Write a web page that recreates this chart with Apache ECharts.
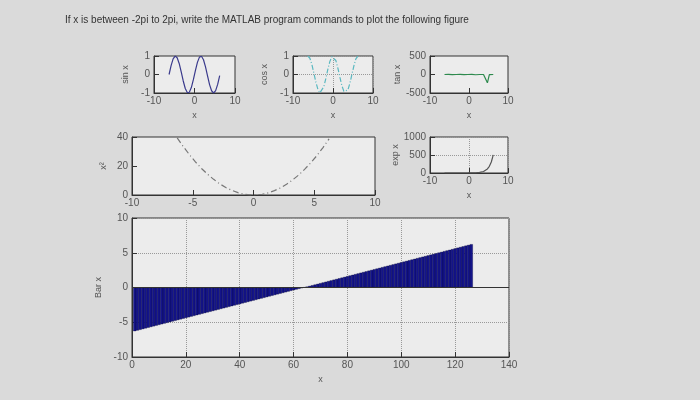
<!DOCTYPE html>
<html><head><meta charset="utf-8">
<script src="https://cdn.jsdelivr.net/npm/echarts@6/dist/echarts.min.js"></script>
<style>html,body{margin:0;background:#dadada}#c{width:700px;height:400px}</style>
</head><body><div id="c"></div>
<script>
const xs=[-6.28,-5.78,-5.28,-4.78,-4.28,-3.78,-3.28,-2.78,-2.28,-1.78,-1.28,-0.78,-0.28,0.22,0.72,1.22,1.72,2.22,2.72,3.22,3.72,4.22,4.72,5.22,5.72,6.22];
const sinV=[0,.479,.841,.997,.909,.598,.141,-.351,-.757,-.978,-.959,-.706,-.279,.215,.657,.938,.989,.798,.412,-.075,-.544,-.879,-1.0,-.875,-.537,-.066];
const cosV=[1,.878,.540,.071,-.416,-.801,-.990,-.936,-.654,-.211,.284,.709,.960,.976,.754,.347,-.146,-.602,-.911,-.997,-.839,-.477,-.004,.468,.844,.997];
const tanV=[0,.546,1.557,14.1,-2.185,-.747,-.143,.375,1.158,4.637,-3.381,-.996,-.291,.220,.871,2.706,-6.8,-1.326,-.452,.075,.648,1.843,-225.95,-1.869,-.636,-.066];
const sqV=[39.4,33.4,27.9,22.8,18.3,14.3,10.8,7.7,5.2,3.2,1.6,.6,.08,.05,.52,1.5,3.0,4.9,7.4,10.4,13.8,17.8,22.3,27.2,32.7,38.7];
const expV=[.002,.003,.005,.008,.014,.023,.038,.062,.10,.17,.28,.46,.76,1.25,2.05,3.39,5.58,9.2,15.2,25.0,41.3,68.0,112,185,305,503];
const barV=[-6.28,-6.18,-6.08,-5.98,-5.88,-5.78,-5.68,-5.58,-5.48,-5.38,
-5.28,-5.18,-5.08,-4.98,-4.88,-4.78,-4.68,-4.58,-4.48,-4.38,
-4.28,-4.18,-4.08,-3.98,-3.88,-3.78,-3.68,-3.58,-3.48,-3.38,
-3.28,-3.18,-3.08,-2.98,-2.88,-2.78,-2.68,-2.58,-2.48,-2.38,
-2.28,-2.18,-2.08,-1.98,-1.88,-1.78,-1.68,-1.58,-1.48,-1.38,
-1.28,-1.18,-1.08,-0.98,-0.88,-0.78,-0.68,-0.58,-0.48,-0.38,
-0.28,-0.18,-0.08,0.02,0.12,0.22,0.32,0.42,0.52,0.62,
0.72,0.82,0.92,1.02,1.12,1.22,1.32,1.42,1.52,1.62,
1.72,1.82,1.92,2.02,2.12,2.22,2.32,2.42,2.52,2.62,
2.72,2.82,2.92,3.02,3.12,3.22,3.32,3.42,3.52,3.62,
3.72,3.82,3.92,4.02,4.12,4.22,4.32,4.42,4.52,4.62,
4.72,4.82,4.92,5.02,5.12,5.22,5.32,5.42,5.52,5.62,
5.72,5.82,5.92,6.02,6.12,6.22];
const pair=a=>xs.map((x,i)=>[x,a[i]]);
const grids=[[154,56,81,37],[293,56,80,37],[430,56,78,37],[132,137,243,58],[430,137,78,36],[132,218,377,139]];
const tc='#555',fs=10;
function xa(i,min,max,iv,name,grid){return {gridIndex:i,type:'value',min,max,interval:iv,name,nameLocation:'middle',nameGap:18,nameTextStyle:{color:tc,fontSize:9},
 axisLine:{onZero:false,lineStyle:{color:'#333'}},axisTick:{inside:true,lineStyle:{color:'#333'}},axisLabel:{color:tc,fontSize:fs,margin:3},
 splitLine:{show:!!grid,lineStyle:{type:'dotted',color:'#999'}}};}
function ya(i,min,max,iv,name,grid){return {gridIndex:i,type:'value',min,max,interval:iv,name,nameLocation:'middle',nameGap:24,nameTextStyle:{color:tc,fontSize:9},
 axisLine:{onZero:false,lineStyle:{color:'#333'}},axisTick:{inside:true,lineStyle:{color:'#333'}},axisLabel:{color:tc,fontSize:fs,margin:4,formatter:v=>String(v)},
 splitLine:{show:!!grid,lineStyle:{type:'dotted',color:'#999'}}};}
const c=echarts.init(document.getElementById('c'));
c.setOption({backgroundColor:'#dadada',animation:false,
 title:{text:'If x is between -2pi to 2pi, write the MATLAB program commands to plot the following figure',left:60,top:10,textStyle:{fontSize:10,fontWeight:'normal',color:'#333'}},
 grid:grids.map(g=>({left:g[0],top:g[1],width:g[2],height:g[3],show:true,backgroundColor:'#ececec',borderColor:'#333',borderWidth:1})),
 xAxis:[xa(0,-10,10,10,'x'),xa(1,-10,10,10,'x',true),xa(2,-10,10,10,'x'),xa(3,-10,10,5,''),xa(4,-10,10,10,'x',true),xa(5,0,140,20,'x',true)],
 yAxis:[ya(0,-1,1,1,'sin x'),ya(1,-1,1,1,'cos x',true),ya(2,-500,500,500,'tan x'),ya(3,0,40,20,'x²'),ya(4,0,1000,500,'exp x',true),ya(5,-10,10,5,'Bar x',true)],
 series:[
  {type:'line',xAxisIndex:0,yAxisIndex:0,data:pair(sinV),showSymbol:false,lineStyle:{color:'#3a3a8c',width:1.2}},
  {type:'line',xAxisIndex:1,yAxisIndex:1,data:pair(cosV),showSymbol:false,lineStyle:{color:'#5ab8c0',width:1.2,type:[5,2,1,2]}},
  {type:'line',xAxisIndex:2,yAxisIndex:2,data:pair(tanV),showSymbol:false,lineStyle:{color:'#2e8a4e',width:1.2}},
  {type:'line',xAxisIndex:3,yAxisIndex:3,data:pair(sqV),showSymbol:false,lineStyle:{color:'#777',width:1.2,type:[6,3,1,3]}},
  {type:'line',xAxisIndex:4,yAxisIndex:4,data:pair(expV),showSymbol:false,lineStyle:{color:'#555',width:1.2}},
  {type:'bar',xAxisIndex:5,yAxisIndex:5,data:barV.map((v,i)=>[i+1,v]),barWidth:3,itemStyle:{color:'#14148a',borderColor:'#050530',borderWidth:0.3},
   markLine:{symbol:'none',silent:true,label:{show:false},lineStyle:{color:'#333',type:'solid',width:1},data:[{yAxis:0}]}}
 ]});
</script></body></html>
